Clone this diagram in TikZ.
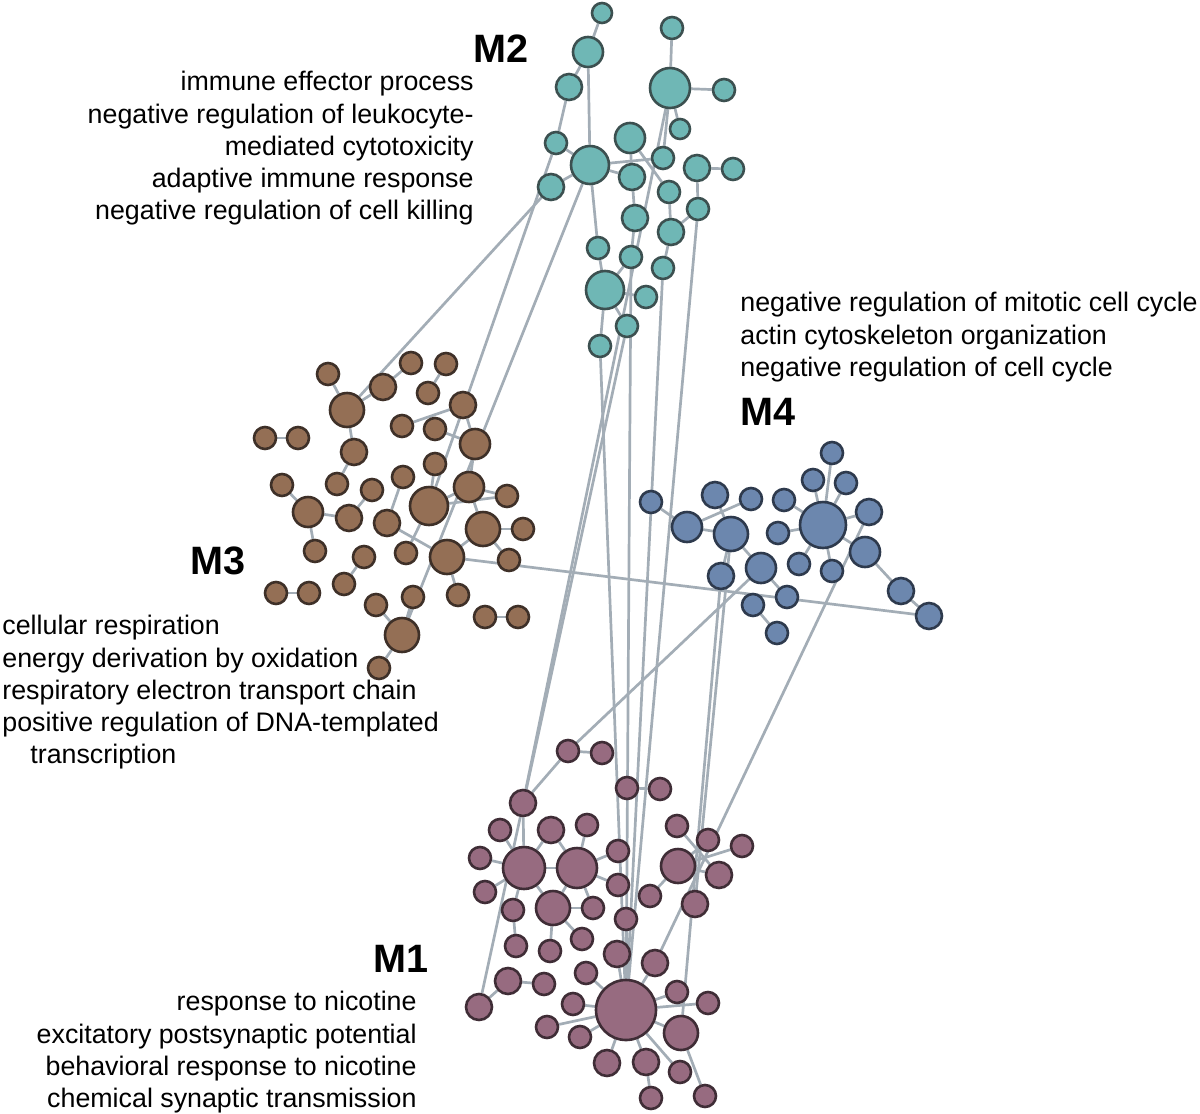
\documentclass[tikz,border=0pt]{standalone}
\usepackage{fontspec}
\setmainfont{Liberation Sans}
\usetikzlibrary{backgrounds}
\definecolor{edgegray}{HTML}{A3ADB6}
\definecolor{tealfill}{HTML}{6FB7B5}
\definecolor{tealline}{HTML}{3C5050}
\definecolor{brownfill}{HTML}{946F55}
\definecolor{brownline}{HTML}{3E3028}
\definecolor{bluefill}{HTML}{6C87AE}
\definecolor{blueline}{HTML}{2E3A4D}
\definecolor{plumfill}{HTML}{976B80}
\definecolor{plumline}{HTML}{3F2D36}

\begin{document}
\begin{tikzpicture}[
    x=0.5pt, y=-0.5pt,
    edge/.style={draw=edgegray, line width=1.35pt},
    gene/.style={circle, line width=1.3pt, inner sep=0pt},
    mtwo/.style={gene, fill=tealfill, draw=tealline},
    mthree/.style={gene, fill=brownfill, draw=brownline},
    mfour/.style={gene, fill=bluefill, draw=blueline},
    mone/.style={gene, fill=plumfill, draw=plumline},
    terms/.style={font=\fontsize{13.4}{16.1}\selectfont, inner sep=0pt},
    module/.style={font=\fontsize{19.8}{24}\selectfont\bfseries, inner sep=0pt}
    ]

    \useasboundingbox (0,0) rectangle (1200,1114);

    % M2
    \foreach \n/\x/\y/\r in {p1/602/13/10, p2/588/52/15, p3/569/87/13, p4/672/28/11,
        p5/670/88/20, p6/724/90/11, p7/680/129/10, p8/630/138/15, p9/556/143/11,
        p10/590/165/19, p11/663/158/11, p12/697/168/13, p13/733/169/11, p14/632/177/13,
        p15/551/187/13, p16/669/192/11, p17/635/218/13, p18/698/209/11, p19/671/232/13,
        p20/598/248/11, p21/631/257/11, p22/663/268/11, p23/605/290/19, p24/646/297/11,
        p25/627/326/11, p26/600/346/11}
        \node[mtwo, minimum size=\r pt] (\n) at (\x,\y) {};

    % M3
    \foreach \n/\x/\y/\r in {q1/328/374/11, q2/411/363/11, q3/446/364/11, q4/383/387/13,
        q5/428/393/11, q6/347/410/17, q7/463/405/13, q8/265/438/11, q9/298/438/11,
        q10/402/426/11, q11/435/429/11, q12/475/444/15, q13/354/452/13, q14/435/464/11,
        q15/403/477/11, q16/282/485/11, q17/337/484/11, q18/372/490/11, q19/469/487/15,
        q20/507/496/11, q21/429/506/19, q22/308/512/15, q23/349/518/13, q24/387/523/13,
        q25/483/529/17, q26/523/529/11, q27/315/551/11, q28/364/557/11, q29/406/553/11,
        q30/447/557/17, q31/509/560/11, q32/344/584/11, q33/276/593/11, q34/309/593/11,
        q35/413/597/11, q36/458/595/11, q37/376/605/11, q38/485/617/11, q39/518/617/11,
        q40/402/635/17, q41/379/668/11}
        \node[mthree, minimum size=\r pt] (\n) at (\x,\y) {};

    % M4
    \foreach \n/\x/\y/\r in {r1/832/453/11, r2/813/480/11, r3/846/483/11, r4/651/502/11,
        r5/715/495/13, r6/751/499/11, r7/784/500/11, r8/869/512/13, r9/687/527/15,
        r10/731/534/17, r11/778/533/11, r12/823/525/23, r13/865/552/15, r14/761/568/15,
        r15/721/576/13, r16/799/564/11, r17/832/571/11, r18/787/597/11, r19/753/605/11,
        r20/901/591/13, r21/777/633/11, r22/929/616/13}
        \node[mfour, minimum size=\r pt] (\n) at (\x,\y) {};

    % M1
    \foreach \n/\x/\y/\r in {s1/568/751/11, s2/602/753/11, s3/627/788/11, s4/660/789/11,
        s5/523/803/13, s6/500/830/11, s7/551/830/13, s8/587/825/11, s9/677/826/11,
        s10/708/840/11, s11/742/846/11, s12/480/858/11, s13/524/868/21, s14/577/868/20,
        s15/618/851/11, s16/678/866/17, s17/719/875/13, s18/485/892/11, s19/618/885/11,
        s20/650/896/11, s21/553/908/17, s22/513/910/11, s23/593/908/11, s24/695/904/13,
        s25/626/919/11, s26/516/946/11, s27/550/951/11, s28/582/939/11, s29/617/954/13,
        s30/586/973/11, s31/655/963/13, s32/508/981/13, s33/544/984/11, s34/479/1007/13,
        s35/626/1010/30, s36/677/992/11, s37/708/1003/11, s38/573/1004/11, s39/547/1027/11,
        s40/580/1037/11, s41/681/1033/17, s42/607/1063/13, s43/646/1062/13, s44/680/1072/11,
        s45/651/1098/11, s46/705/1096/11}
        \node[mone, minimum size=\r pt] (\n) at (\x,\y) {};

    % links, behind the genes
    \begin{scope}[on background layer]
    \foreach \a/\b in {p1/p2, p2/p3, p2/p10, p3/p9, p4/p5, p5/p6, p5/p7, p5/p11, p9/p10,
        p10/p15, p10/p11, p10/p14, p10/p20, p8/p14, p8/p16, p12/p13, p12/p18, p18/p19,
        p19/p22, p16/p19, p14/p17, p17/p21, p21/p23, p20/p23, p23/p24, p23/p25, p23/p26}
        \draw[edge] (\a) -- (\b);
    \foreach \a/\b in {q1/q6, q6/q4, q4/q2, q5/q3, q6/q13, q8/q9, q10/q7, q7/q12, q11/q12,
        q12/q19, q14/q21, q13/q17, q15/q24, q18/q23, q16/q22, q19/q20, q21/q19, q21/q20,
        q19/q25, q22/q23, q22/q27, q24/q30, q25/q30, q25/q26, q25/q31, q30/q36, q28/q32,
        q33/q34, q37/q40, q35/q40, q40/q41, q38/q39, q21/q29}
        \draw[edge] (\a) -- (\b);
    \foreach \a/\b in {r4/r9, r9/r10, r9/r6, r5/r10, r10/r14, r10/r15, r14/r18, r19/r21,
        r12/r7, r12/r11, r12/r2, r12/r3, r12/r1, r12/r8, r12/r13, r12/r16, r12/r17,
        r13/r20, r20/r22}
        \draw[edge] (\a) -- (\b);
    \foreach \a/\b in {s1/s2, s1/s5, s3/s4, s5/s13, s6/s13, s7/s13, s7/s14, s8/s14,
        s12/s13, s18/s13, s13/s14, s14/s15, s14/s19, s13/s21, s13/s22, s14/s21, s14/s23,
        s21/s23, s9/s17, s16/s17, s16/s10, s16/s11, s16/s20, s21/s27, s21/s28, s22/s26,
        s32/s33, s32/s34, s29/s35, s30/s35, s31/s35, s36/s35, s37/s35, s38/s35, s39/s35,
        s40/s35, s41/s35, s42/s35, s43/s35, s44/s35, s43/s45, s41/s46}
        \draw[edge] (\a) -- (\b);
    % between modules
    \foreach \a/\b in {p15/q6, p9/q21, p10/q40, q30/r22, p25/s34, p5/s5, p26/s35,
        p21/s35, p22/s35, p18/s35, r14/s1, r15/s41, r10/s24, r8/s31}
        \draw[edge] (\a) -- (\b);
    \end{scope}

    % module names and terms
    \node[module, anchor=base west] (M2) at (473,62) {M2};
    \node[terms, align=right, anchor=north east] (M2terms) at (474,71)
        {immune effector process\\negative regulation of leukocyte-\\mediated cytotoxicity\\adaptive immune response\\negative regulation of cell killing};
    \node[terms, align=left, anchor=north west] (M4terms) at (740,292)
        {negative regulation of mitotic cell cycle\\actin cytoskeleton organization\\negative regulation of cell cycle};
    \node[module, anchor=base west] (M4) at (740,425) {M4};
    \node[module, anchor=base west] (M3) at (190,574) {M3};
    \node[terms, align=left, anchor=north west] (M3terms) at (2,615)
        {cellular respiration\\energy derivation by oxidation\\respiratory electron transport chain\\positive regulation of DNA-templated\\\hspace*{14pt}transcription};
    \node[module, anchor=base west] (M1) at (373,972) {M1};
    \node[terms, align=right, anchor=north east] (M1terms) at (417,991)
        {response to nicotine\\excitatory postsynaptic potential\\behavioral response to nicotine\\chemical synaptic transmission};
\end{tikzpicture}
\end{document}
